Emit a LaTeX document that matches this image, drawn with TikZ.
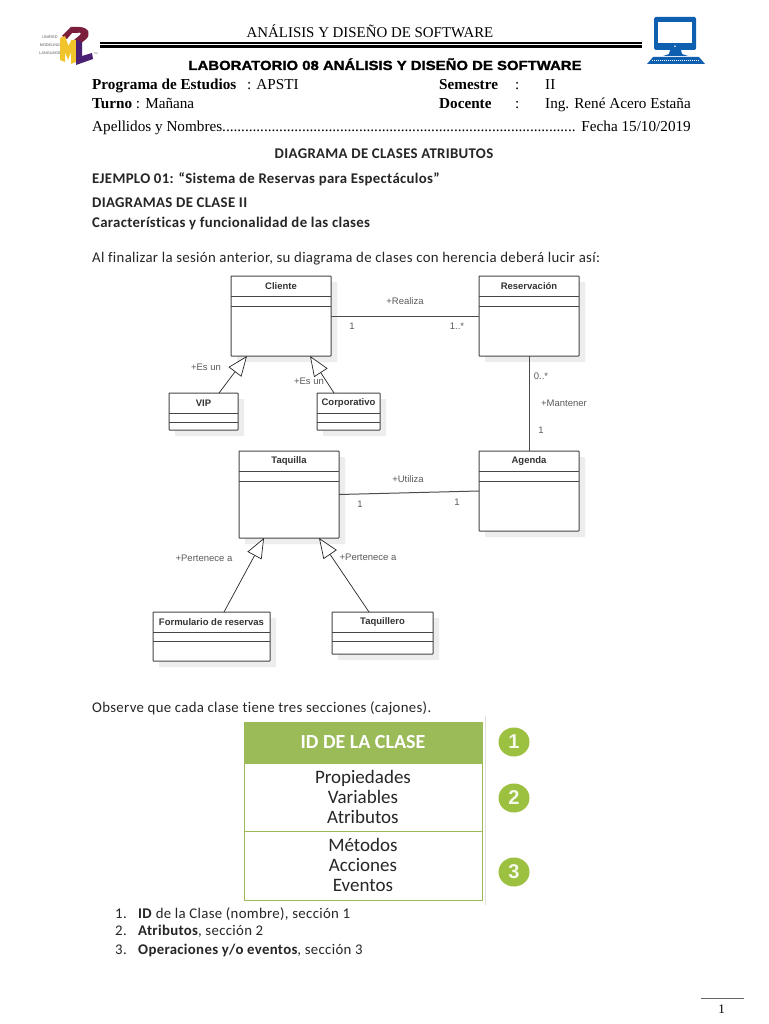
\documentclass[tikz,border=0pt]{standalone}
\usepackage{fontspec}
\usetikzlibrary{arrows.meta,shadows,calc,shapes.geometric}
\setmainfont{Liberation Serif}
\newfontfamily\calfont[LetterSpace=2.2,Ligatures=NoCommon]{Carlito}
\newfontfamily\idfont{Carlito}
\newfontfamily\ars{Liberation Sans}
\newfontfamily\labfont[UprightFont=* Bold,FakeBold=1.6,FakeStretch=1.13]{Liberation Sans}
\definecolor{umlgrey}{HTML}{454545}
\definecolor{labelgrey}{HTML}{5A5A5A}
\definecolor{idgreen}{HTML}{9BBB59}
\definecolor{badge}{HTML}{9CC03F}
\definecolor{pcblue}{HTML}{0F5FB0}
\definecolor{umlU}{HTML}{7B1E3C}
\definecolor{umlM}{HTML}{F2C42C}
\definecolor{umlL}{HTML}{4B1F73}
\tikzset{
 x=1pt,y=-1pt,
 classbox/.style={draw=umlgrey,line width=1pt,fill=white,rounded corners=.5pt,
   drop shadow={shadow xshift=6pt,shadow yshift=-6pt,fill=black!7,opacity=1}},
 classname/.style={font=\ars\bfseries\fontsize{9.5}{11}\selectfont,text=black!80,inner sep=0pt},
 comp/.style={draw=umlgrey,line width=.9pt},
 assoc/.style={draw=black!70,line width=1pt},
 gen/.style={draw=black!85,line width=.7pt,-{Triangle[open,length=20pt,width=16pt,fill=white]}},
 lbl/.style={font=\ars\fontsize{9.5}{11}\selectfont,text=labelgrey,inner sep=0pt},
 head/.style={font=\fontsize{15.2}{17}\selectfont,inner sep=0pt,anchor=base west},
 headb/.style={font=\bfseries\fontsize{15.2}{17}\selectfont,inner sep=0pt,anchor=base west},
 body/.style={font=\calfont\fontsize{14.8}{16}\selectfont,text=black!85,inner sep=0pt,anchor=base west},
 bodyb/.style={font=\calfont\bfseries\fontsize{14.8}{16}\selectfont,text=black!85,inner sep=0pt,anchor=base west},
 idbody/.style={font=\idfont\fontsize{19}{20}\selectfont,text=black!85,inner sep=0pt},
 numbadge/.style={ellipse,fill=badge,minimum width=31pt,minimum height=29pt,inner sep=0pt,text=white!90!badge,font=\ars\bfseries\fontsize{20}{22}\selectfont},
}
% \classbox{name}{x1}{y1}{x2}{y2}{line1}{line2}{title}
\newcommand{\classbox}[8]{%
 \node[classbox,anchor=north west,minimum width=#4pt-#2pt,minimum height=#5pt-#3pt,inner sep=0pt,outer sep=0pt] (#1) at (#2,#3) {};
 \draw[comp] (#2,#6) -- (#4,#6);
 \draw[comp] (#2,#7) -- (#4,#7);
 \node[classname] (#1t) at ({(#2+#4)/2},{(#3+#6)/2+.5}) {#8};
}
\begin{document}
\begin{tikzpicture}
\useasboundingbox[fill=white] (0,0) rectangle (768,1024);

% ---------- UML logo
\fill[umlU] (62,36) -- (71,27) -- (79,27) .. controls (89,27) and (92,35) .. (85,40) -- (79,45) -- (74,40) -- (80,35) .. controls (82,33) and (80,32) .. (77,33) -- (72,33) -- (67,39) -- cycle;
\fill[umlM] (60,38) -- (65,36) -- (68.5,46) -- (71.5,40) -- (76,40) -- (76,62) -- (71,64) -- (71,52) -- (68,60) -- (65,52) -- (65,62) -- (60,60) -- cycle;
\fill[umlL] (76,40) -- (82,42) -- (82,56) -- (92,53) -- (93,59) -- (76,65) -- cycle;
\node[font=\ars\fontsize{3.8}{5.2}\selectfont,align=center,text=black!65,inner sep=0pt] (umltxt) at (50,45.5) {UNIFIED\\[3pt]MODELING\\[3pt]LANGUAGE};
\node[font=\ars\fontsize{2.5}{3}\selectfont,text=black!65,inner sep=0pt] (umltm) at (96,54) {TM};

% ---------- header
\node[font=\fontsize{14.9}{16}\selectfont,inner sep=0pt,anchor=base] (title) at (370,38) {ANÁLISIS Y DISEÑO DE SOFTWARE};
\fill[black] (100,42.2) rectangle (642,44.4);
\fill[black] (100,45.4) rectangle (642,47.6);

% ---------- computer icon
\fill[pcblue,rounded corners=1.5pt] (654,17) rectangle (696,50);
\fill[white] (658,22) rectangle (692,43);
\fill[white] (675,46.2) circle (.9);
\fill[pcblue] (670,50) -- (681,50) -- (682,54) -- (688,56) -- (663,56) -- (669,54) -- cycle;
\fill[pcblue] (653,57) -- (699,57) -- (705,64) -- (647,64) -- cycle;
\draw[white,line width=.6pt,dash pattern=on 1pt off 1pt] (652,60) -- (700,60);

\node[font=\labfont\fontsize{13.2}{15}\selectfont,inner sep=0pt,anchor=base] (lab) at (385,70) {LABORATORIO 08 ANÁLISIS Y DISEÑO DE SOFTWARE};

\node[headb] (p1) at (92,90) {Programa de Estudios};
\node[head] (p2) at (247,90) {: APSTI};
\node[headb] (s1) at (439,90) {Semestre};
\node[head] (s2) at (515,90) {:};
\node[head] (s3) at (545,90) {II};
\node[head] (t1) at (92,109) {\textbf{Turno} : Mañana};
\node[headb] (d1) at (439,109) {Docente};
\node[head] (d2) at (515,109) {:};
\node[head] (d3) at (545,109) {Ing. René Acero Estaña};
\node[head] (a1) at (92,132) {Apellidos y Nombres.............................................................................................};
\node[head,anchor=base east] (a2) at (691,132) {Fecha 15/10/2019};

% ---------- body text
\node[bodyb,anchor=base] (b1) at (384,159) {DIAGRAMA DE CLASES ATRIBUTOS};
\node[bodyb] (b2) at (92,184) {EJEMPLO 01: “Sistema de Reservas para Espectáculos”};
\node[bodyb] (b3) at (92,208) {DIAGRAMAS DE CLASE II};
\node[bodyb] (b4) at (92,227) {Características y funcionalidad de las clases};
\node[body] (b5) at (92,262) {Al finalizar la sesión anterior, su diagrama de clases con herencia deberá lucir así:};

% ---------- class diagram
\classbox{cliente}{231}{276}{331}{356}{296}{306}{Cliente}
\classbox{reserv}{479}{276}{579}{356}{296}{306}{Reservación}
\classbox{vip}{169}{393}{238}{430}{413}{422}{VIP}
\classbox{corp}{317}{393}{380}{430}{413}{422}{Corporativo}
\classbox{taquilla}{239}{451}{339}{538}{471}{481}{Taquilla}
\classbox{agenda}{479}{451}{579}{531}{471}{481}{Agenda}
\classbox{form}{153}{612}{270}{661}{632}{641}{Formulario de reservas}
\classbox{taqero}{332}{612}{433}{654}{632}{641}{Taquillero}

\draw[assoc] (cliente.east) -- (reserv.west);
\draw[assoc] (reserv.south) -- (agenda.north);
\draw[assoc] (taquilla.east) -- (agenda.west);

\coordinate (vipA) at (219,393);   \coordinate (cliA) at (247,356);
\coordinate (corpA) at (334,393);  \coordinate (cliB) at (310,356);
\coordinate (formA) at (224,612);  \coordinate (taqA) at (264,538);
\coordinate (teroA) at (369,612);  \coordinate (taqB) at (319,538);
\draw[gen] (vipA) -- (cliA);
\draw[gen] (corpA) -- (cliB);
\draw[gen] (formA) -- (taqA);
\draw[gen] (teroA) -- (taqB);

\node[lbl] (l1) at (405,301) {+Realiza};
\node[lbl] (l2) at (352,326) {1};
\node[lbl] (l3) at (457,326) {1..*};
\node[lbl] (l4) at (206,367) {+Es un};
\node[lbl] (l5) at (309,381) {+Es un};
\node[lbl] (l6) at (541,376) {0..*};
\node[lbl] (l7) at (564,403) {+Mantener};
\node[lbl] (l8) at (541,430) {1};
\node[lbl] (l9) at (408,479) {+Utiliza};
\node[lbl] (l10) at (360,504) {1};
\node[lbl] (l11) at (457,502) {1};
\node[lbl] (l12) at (204,558) {+Pertenece a};
\node[lbl] (l13) at (368,557) {+Pertenece a};

% ---------- sections
\node[body] (o1) at (92,712) {Observe que cada clase tiene tres secciones (cajones).};
\draw[black!12,line width=1pt] (485.5,716) -- (485.5,905);
\node[draw=idgreen,line width=.9pt,fill=idgreen,minimum width=238pt,minimum height=41pt,anchor=north west,inner sep=0pt,font=\idfont\bfseries\fontsize{20}{22}\selectfont,text=white] (idc) at (243.5,721.5) {ID DE LA CLASE};
\node[draw=idgreen,line width=.9pt,minimum width=238pt,minimum height=68pt,anchor=north west,inner sep=0pt,align=center,idbody] (idp) at (243.5,762.5) {Propiedades\\Variables\\Atributos};
\node[draw=idgreen,line width=.9pt,minimum width=238pt,minimum height=69pt,anchor=north west,inner sep=0pt,align=center,idbody] (idm) at (243.5,830.5) {Métodos\\Acciones\\Eventos};
\node[numbadge] (n1) at (514,742) {1};
\node[numbadge] (n2) at (514,798) {2};
\node[numbadge] (n3) at (514,872) {3};

% ---------- list
\node[body] (li1) at (115,918) {1.};
\node[body] (li1t) at (138,918) {\textbf{ID} de la Clase (nombre), sección 1};
\node[body] (li2) at (115,935) {2.};
\node[body] (li2t) at (138,935) {\textbf{Atributos}, sección 2};
\node[body] (li3) at (115,954) {3.};
\node[body] (li3t) at (138,954) {\textbf{Operaciones y/o eventos}, sección 3};

% ---------- page number
\draw[black!60,line width=.8pt] (701,998) -- (744,998);
\node[font=\fontsize{13}{15}\selectfont,inner sep=0pt,anchor=base] (pg) at (721.5,1013) {1};
\end{tikzpicture}
\end{document}
